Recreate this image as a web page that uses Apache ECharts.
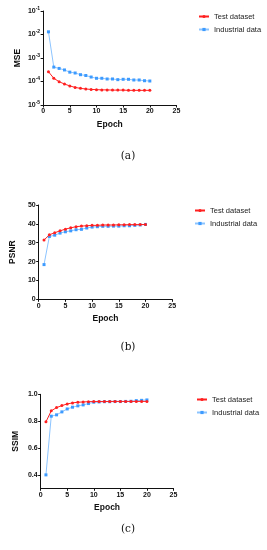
<!DOCTYPE html>
<html><head><meta charset="utf-8">
<script src="https://cdn.jsdelivr.net/npm/echarts@6/dist/echarts.min.js"></script>
<style>html,body{margin:0;padding:0;background:#fff}#c{width:267px;height:550px}</style>
</head><body><div id="c"></div>
<script>
var epochs = [1,2,3,4,5,6,7,8,9,10,11,12,13,14,15,16,17,18,19,20];
var xTicks = [0,5,10,15,20,25];
var seriesNames = ['Test dataset','Industrial data'];
var mseTest = [2.6e-4,1.37e-4,9.8e-5,7.8e-5,6.5e-5,5.6e-5,5.1e-5,4.8e-5,4.6e-5,4.5e-5,4.4e-5,4.4e-5,4.3e-5,4.3e-5,4.3e-5,4.2e-5,4.2e-5,4.2e-5,4.2e-5,4.2e-5];
var mseIndustrial = [1.3e-2,4.1e-4,3.6e-4,3.1e-4,2.5e-4,2.3e-4,1.95e-4,1.8e-4,1.55e-4,1.37e-4,1.37e-4,1.28e-4,1.28e-4,1.2e-4,1.24e-4,1.24e-4,1.16e-4,1.16e-4,1.08e-4,1.05e-4];
var psnrTest = [31.4,34.2,35.3,36.3,37.2,37.9,38.5,38.8,39.0,39.2,39.2,39.4,39.4,39.4,39.5,39.5,39.6,39.6,39.6,39.7];
var psnrIndustrial = [18.4,33.3,34.0,35.1,35.8,36.3,36.9,37.1,37.8,38.3,38.5,38.7,38.7,38.8,38.8,39.0,39.0,39.2,39.4,39.7];
var ssimTest = [0.795,0.877,0.901,0.916,0.928,0.936,0.941,0.943,0.945,0.946,0.946,0.946,0.947,0.947,0.947,0.947,0.947,0.947,0.947,0.947];
var ssimIndustrial = [0.40,0.837,0.847,0.869,0.891,0.904,0.914,0.921,0.931,0.941,0.943,0.945,0.945,0.946,0.946,0.947,0.948,0.953,0.955,0.958];
var ssimTicks = [0.4,0.6,0.8,1.0];
var captions = ['(a)','(b)','(c)'];

var RED = '#ff2020', BLUE_L = '#8cc4ff', BLUE = '#3d9bff';
var FONT = 'Liberation Sans';
function pairs(ys){ return epochs.map(function(e,i){ return [e, ys[i]]; }); }

var grids = [
  {left:35, top:11, width:141.5, height:94},
  {left:30.7, top:205, width:141.5, height:94.3},
  {left:32, top:394.3, width:141.5, height:94}
];
var axisLine = {show:true, lineStyle:{color:'#111', width:1}};
var axisTick = {show:true, inside:false, length:2.5, lineStyle:{color:'#111', width:1}};
var labelBase = {color:'#111', fontFamily:FONT, fontWeight:'bold', fontSize:7, margin:3};
var nameBase = {color:'#111', fontFamily:FONT, fontWeight:'bold', fontSize:8.5};

var xAxes = grids.map(function(g,i){
  return {gridIndex:i, type:'value', min:0, max:25, interval:5, name:'Epoch', nameLocation:'middle', nameGap:15,
    nameTextStyle:nameBase, axisLine:axisLine, axisTick:axisTick, axisLabel:labelBase, splitLine:{show:false}};
});
var yAxes = [
  {gridIndex:0, type:'log', logBase:10, min:1e-5, max:1e-1, name:'MSE', nameLocation:'middle', nameGap:21,
    nameTextStyle:nameBase, axisLine:axisLine, axisTick:axisTick, splitLine:{show:false}, minorTick:{show:false},
    axisLabel:Object.assign({}, labelBase, {
      formatter:function(v){ var e=Math.round(Math.log10(v)); return '{b|10}{s|'+e+'}'; },
      rich:{b:{fontFamily:FONT, fontWeight:'bold', fontSize:7, color:'#111'},
            s:{fontFamily:FONT, fontWeight:'bold', fontSize:5, color:'#111', padding:[0,0,5,0]}}
    })},
  {gridIndex:1, type:'value', min:0, max:50, interval:10, name:'PSNR', nameLocation:'middle', nameGap:17,
    nameTextStyle:nameBase, axisLine:axisLine, axisTick:axisTick, axisLabel:labelBase, splitLine:{show:false}},
  {gridIndex:2, type:'value', min:0.3, max:1.0, name:'SSIM', nameLocation:'middle', nameGap:20,
    nameTextStyle:nameBase, axisLine:axisLine,
    axisTick:Object.assign({}, axisTick, {customValues:ssimTicks}),
    axisLabel:Object.assign({}, labelBase, {customValues:ssimTicks, formatter:function(v){return v.toFixed(1);}}),
    splitLine:{show:false}}
];
var data = [[mseTest, mseIndustrial],[psnrTest, psnrIndustrial],[ssimTest, ssimIndustrial]];
var series = [];
data.forEach(function(d,i){
  series.push({name:seriesNames[0], type:'line', xAxisIndex:i, yAxisIndex:i, data:pairs(d[0]),
    symbol:'circle', symbolSize:3, showSymbol:true, lineStyle:{color:RED, width:1}, itemStyle:{color:RED}, z:3, animation:false});
  series.push({name:seriesNames[1], type:'line', xAxisIndex:i, yAxisIndex:i, data:pairs(d[1]),
    symbol:'rect', symbolSize:3, showSymbol:true, lineStyle:{color:BLUE_L, width:1}, itemStyle:{color:BLUE}, z:2, animation:false});
});
var legendPos = [{left:198, top:12},{left:194, top:206},{left:196, top:395}];
var legends = legendPos.map(function(p){
  return {left:p.left, top:p.top, orient:'vertical', itemWidth:10, itemHeight:4, itemGap:4, selectedMode:false, padding:0,
    textStyle:{fontFamily:FONT, fontSize:7.5, color:'#222', lineHeight:9}, data:seriesNames};
});
var capY = [156.5, 347, 529];
var graphics = captions.map(function(t,i){
  return {type:'text', x:128, y:capY[i], style:{text:t, fontFamily:'DejaVu Serif', fontSize:10.5, fill:'#111', align:'center', verticalAlign:'middle'}};
});
var chart = echarts.init(document.getElementById('c'), null, {renderer:'canvas'});
chart.setOption({animation:false, grid:grids, xAxis:xAxes, yAxis:yAxes, series:series, legend:legends, graphic:graphics});
</script></body></html>
